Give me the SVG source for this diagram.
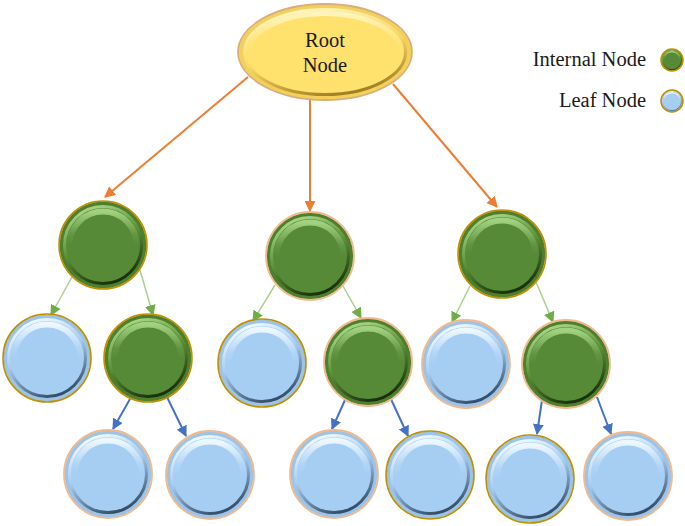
<svg xmlns="http://www.w3.org/2000/svg" xmlns:xlink="http://www.w3.org/1999/xlink" width="685" height="526" viewBox="0 0 685 526">
<style>
  .lbl { font-family: "Liberation Serif", "Times New Roman", serif; font-size: 20.5px; fill: #1a1a1a; }
  .gold { fill: none; stroke: #BF9000; stroke-width: 1.6; }
  .peach { fill: none; stroke: #F0B98E; stroke-width: 1.8; }
  .eo { stroke: #ED7D31; stroke-width: 2; fill: none; }
  .eg { stroke: #A9D18E; stroke-width: 1.5; fill: none; }
  .eb { stroke: #4472C4; stroke-width: 2; fill: none; }
</style>
<defs>
  <linearGradient id="grooveG" x1="0.3" y1="0" x2="0.7" y2="1">
    <stop offset="0" stop-color="#A8D788"/>
    <stop offset="0.45" stop-color="#5E9438"/>
    <stop offset="1" stop-color="#14290A"/>
  </linearGradient>
  <linearGradient id="grooveB" x1="0.3" y1="0" x2="0.7" y2="1">
    <stop offset="0" stop-color="#F2FAFF"/>
    <stop offset="0.45" stop-color="#A6CBEE"/>
    <stop offset="1" stop-color="#2D4660"/>
  </linearGradient>
  <linearGradient id="grooveY" x1="0.3" y1="0" x2="0.7" y2="1">
    <stop offset="0" stop-color="#FFF6C0"/>
    <stop offset="0.5" stop-color="#F7D865"/>
    <stop offset="1" stop-color="#9C7A1E"/>
  </linearGradient>
  <linearGradient id="hiG" x1="0" y1="0" x2="0" y2="1">
    <stop offset="0" stop-color="#A6D684" stop-opacity="0.95"/>
    <stop offset="0.35" stop-color="#A6D684" stop-opacity="0.15"/>
    <stop offset="0.5" stop-color="#A6D684" stop-opacity="0"/>
  </linearGradient>
  <linearGradient id="hiB" x1="0" y1="0" x2="0" y2="1">
    <stop offset="0" stop-color="#F0FAFF" stop-opacity="0.95"/>
    <stop offset="0.35" stop-color="#F0FAFF" stop-opacity="0.15"/>
    <stop offset="0.5" stop-color="#F0FAFF" stop-opacity="0"/>
  </linearGradient>
  <linearGradient id="hiY" x1="0" y1="0" x2="0" y2="1">
    <stop offset="0" stop-color="#FFF6C0" stop-opacity="0.95"/>
    <stop offset="0.35" stop-color="#FFF6C0" stop-opacity="0.15"/>
    <stop offset="0.5" stop-color="#FFF6C0" stop-opacity="0"/>
  </linearGradient>
  <g id="green">
    <circle r="43.5" fill="#4E7F2D"/>
    <circle r="38" fill="#568A36"/>
    <circle r="33.5" fill="none" stroke="url(#hiG)" stroke-width="6"/>
    <circle r="38.5" fill="none" stroke="url(#grooveG)" stroke-width="3"/>
  </g>
  <g id="leaf">
    <circle r="43.5" fill="#9CC3E8"/>
    <circle r="38" fill="#A6CEF3"/>
    <circle r="33.5" fill="none" stroke="url(#hiB)" stroke-width="6"/>
    <circle r="38.5" fill="none" stroke="url(#grooveB)" stroke-width="3"/>
  </g>
  <marker id="ao" viewBox="0 0 10 10" refX="9" refY="5" markerWidth="11" markerHeight="11" markerUnits="userSpaceOnUse" orient="auto">
    <path d="M0,0 L10,5 L0,10 z" fill="#ED7D31"/>
  </marker>
  <marker id="ag" viewBox="0 0 10 10" refX="9" refY="5" markerWidth="11" markerHeight="11" markerUnits="userSpaceOnUse" orient="auto">
    <path d="M0,0 L10,5 L0,10 z" fill="#70AD47"/>
  </marker>
  <marker id="ab" viewBox="0 0 10 10" refX="9" refY="5" markerWidth="11" markerHeight="11" markerUnits="userSpaceOnUse" orient="auto">
    <path d="M0,0 L10,5 L0,10 z" fill="#4472C4"/>
  </marker>
</defs>

<g id="connectors">
  <line class="eo" x1="248" y1="77" x2="105" y2="197" marker-end="url(#ao)"/>
  <line class="eo" x1="310" y1="96" x2="310" y2="211" marker-end="url(#ao)"/>
  <line class="eo" x1="393" y1="84" x2="497" y2="207" marker-end="url(#ao)"/>

  <line class="eg" x1="72" y1="277" x2="51" y2="315" marker-end="url(#ag)"/>
  <line class="eg" x1="140" y1="270" x2="153" y2="315" marker-end="url(#ag)"/>
  <line class="eg" x1="275" y1="285" x2="253" y2="321" marker-end="url(#ag)"/>
  <line class="eg" x1="343" y1="286" x2="361" y2="318" marker-end="url(#ag)"/>
  <line class="eg" x1="470" y1="286" x2="452" y2="322" marker-end="url(#ag)"/>
  <line class="eg" x1="536" y1="282" x2="553" y2="322" marker-end="url(#ag)"/>

  <line class="eb" x1="130" y1="399" x2="113" y2="429" marker-end="url(#ab)"/>
  <line class="eb" x1="166" y1="395" x2="186" y2="436" marker-end="url(#ab)"/>
  <line class="eb" x1="345" y1="400" x2="332" y2="429" marker-end="url(#ab)"/>
  <line class="eb" x1="390" y1="397" x2="408" y2="436" marker-end="url(#ab)"/>
  <line class="eb" x1="542" y1="400" x2="537" y2="434" marker-end="url(#ab)"/>
  <line class="eb" x1="597" y1="397" x2="611" y2="434" marker-end="url(#ab)"/>
</g>

<g id="root" transform="translate(325,52)">
  <ellipse rx="87" ry="48" fill="#F3D05A" stroke="#D9AE7E" stroke-width="1.8"/>
  <ellipse rx="80" ry="42" fill="#FFE16E"/>
  <ellipse rx="76" ry="38.5" fill="none" stroke="url(#hiY)" stroke-width="5"/>
  <ellipse rx="80.5" ry="42.5" fill="none" stroke="url(#grooveY)" stroke-width="3"/>
  <text class="lbl" x="0" y="-5" text-anchor="middle">Root</text>
  <text class="lbl" x="0" y="20" text-anchor="middle">Node</text>
</g>

<g id="legend-internal">
  <text class="lbl" x="646" y="66" text-anchor="end">Internal Node</text>
  <g transform="translate(672,60) scale(0.25)"><use xlink:href="#green"/><circle r="44" fill="none" stroke="#BF9000" stroke-width="6"/></g>
</g>
<g id="legend-leaf">
  <text class="lbl" x="646" y="107" text-anchor="end">Leaf Node</text>
  <g transform="translate(672,101) scale(0.25)"><use xlink:href="#leaf"/><circle r="44" fill="none" stroke="#BF9000" stroke-width="6"/></g>
</g>

<g id="i1" transform="translate(103,245)"><use xlink:href="#green"/><circle r="44" class="gold"/></g>
<g id="i2" transform="translate(310,256)"><use xlink:href="#green"/><circle r="44" class="peach"/></g>
<g id="i3" transform="translate(502,254)"><use xlink:href="#green"/><circle r="44" class="gold"/></g>

<g id="l1" transform="translate(47,358)"><use xlink:href="#leaf"/><circle r="44" class="gold"/></g>
<g id="i4" transform="translate(148,358)"><use xlink:href="#green"/><circle r="44" class="gold"/></g>
<g id="l2" transform="translate(262,363)"><use xlink:href="#leaf"/><circle r="44" class="gold"/></g>
<g id="i5" transform="translate(368,362)"><use xlink:href="#green"/><circle r="44" class="peach"/></g>
<g id="l3" transform="translate(466,364)"><use xlink:href="#leaf"/><circle r="44" class="peach"/></g>
<g id="i6" transform="translate(566,364)"><use xlink:href="#green"/><circle r="44" class="peach"/></g>

<g id="l4" transform="translate(108,474)"><use xlink:href="#leaf"/><circle r="44" class="peach"/></g>
<g id="l5" transform="translate(210,475)"><use xlink:href="#leaf"/><circle r="44" class="peach"/></g>
<g id="l6" transform="translate(334,474)"><use xlink:href="#leaf"/><circle r="44" class="peach"/></g>
<g id="l7" transform="translate(430,475)"><use xlink:href="#leaf"/><circle r="44" class="gold"/></g>
<g id="l8" transform="translate(530,479)"><use xlink:href="#leaf"/><circle r="44" class="gold"/></g>
<g id="l9" transform="translate(628,476)"><use xlink:href="#leaf"/><circle r="44" class="peach"/></g>
</svg>
